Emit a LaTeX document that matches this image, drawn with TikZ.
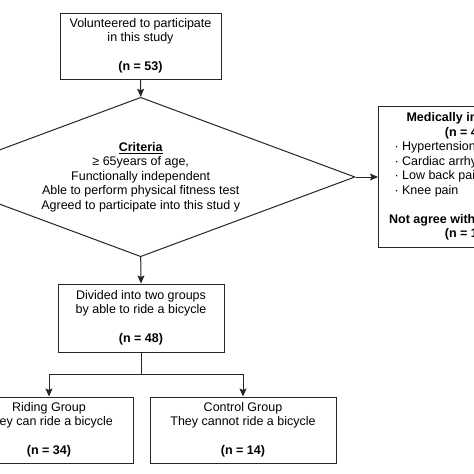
\documentclass[tikz,border=0pt]{standalone}
\usepackage{fontspec}
\setmainfont{Liberation Sans}
\usetikzlibrary{shapes.geometric,arrows.meta}
\begin{document}
\begin{tikzpicture}[x=1pt,y=-1pt,
  every node/.style={font=\fontsize{12.5}{14.5}\selectfont, inner sep=0pt},
  box/.style={draw=black!85, line width=1pt, rectangle, align=center},
  conn/.style={draw=black!85, line width=1pt},
  arr/.style={conn, -{Stealth[length=8pt,width=7pt,inset=1.5pt]}}]
\useasboundingbox (0,0) rectangle (474,474);
\clip (0,0) rectangle (474,474);
\fill[white] (0,0) rectangle (474,474);

\node[box, minimum width=161pt, minimum height=66pt] (vol) at (140.5,46)
  {Volunteered to participate\\in this study\\[14.5pt]\textbf{(n = 53)}};

\node[draw=black!85, line width=1pt, shape=diamond, aspect=2.69,
      minimum width=428.6pt, minimum height=159.4pt, align=center] (crit) at (140.7,177)
  {\underline{\textbf{Criteria}}\\ ≥ 65years of age,\\ Functionally independent\\
   Able to perform physical fitness test\\ Agreed to participate into this stud y};

\node[box, minimum width=170pt, minimum height=141pt, anchor=west] (excl) at (378,176.5)
  {\textbf{Medically ineligible}\\ \textbf{(n = 4)}\\
   \makebox[150pt][l]{\hspace{6pt}· Hypertension}\\
   \makebox[150pt][l]{\hspace{6pt}· Cardiac arrhythmia}\\
   \makebox[150pt][l]{\hspace{6pt}· Low back pain}\\
   \makebox[150pt][l]{\hspace{6pt}· Knee pain}\\[14.5pt]
   \textbf{Not agree with this study}\\ \textbf{(n = 1)}};

\node[box, minimum width=166pt, minimum height=68pt] (div) at (141,318)
  {Divided into two groups\\by able to ride a bicycle\\[14.5pt]\textbf{(n = 48)}};

\node[box, minimum width=168pt, minimum height=66pt] (ride) at (49,430)
  {Riding Group\\They can ride a bicycle\\[14.5pt]\textbf{(n = 34)}};

\node[box, minimum width=186pt, minimum height=66pt] (ctrl) at (243,430)
  {Control Group\\They cannot ride a bicycle\\[14.5pt]\textbf{(n = 14)}};

\coordinate (j) at (141,374);

\draw[arr] (vol.south) -- (crit.north);
\draw[arr] (crit.east) -- (crit.east -| excl.west);
\draw[arr] (crit.south) -- (div.north);
\draw[conn] (div.south) -- (j);
\draw[arr] (j) -| (ride.north);
\draw[arr] (j) -| (ctrl.north);
\end{tikzpicture}
\end{document}
